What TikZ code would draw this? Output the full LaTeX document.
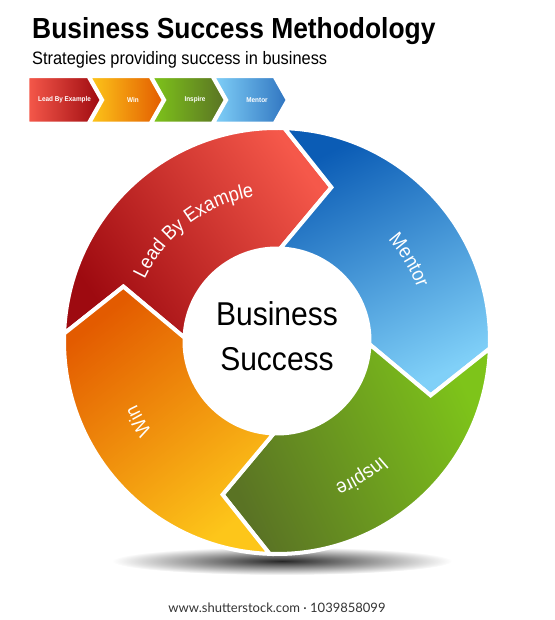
\documentclass[tikz,border=0pt]{standalone}
\usepackage{fontspec}
\setmainfont{Liberation Sans}
\newfontfamily\condfont[FakeStretch=0.91]{Liberation Sans}
\newfontfamily\footfont{Lato}
\usetikzlibrary{decorations.text}

\definecolor{leaddark}{HTML}{9E0A10}
\definecolor{leadlight}{HTML}{F5584A}
\definecolor{mentordark}{HTML}{0B5CB5}
\definecolor{mentorlight}{HTML}{80D0F8}
\definecolor{inspiredark}{HTML}{5A7324}
\definecolor{inspirelight}{HTML}{7EC41A}
\definecolor{windark}{HTML}{E35B00}
\definecolor{winlight}{HTML}{FDC61A}

\newcommand{\ringfont}{\condfont\fontsize{20}{24}\selectfont\color{white}}

\begin{document}
\begin{tikzpicture}[x=1pt, y=1pt,
    segment/.style={draw=white, line width=4pt, line join=miter},
    chevron/.style={draw=white, line width=2.5pt, line join=miter},
    chevlabel/.style={text=white, font=\condfont\bfseries\fontsize{7}{8}\selectfont},
    ringlabel/.style={decorate, decoration={text along path, text align=center, text={|\ringfont|#1}}}
]
\useasboundingbox (0,0) rectangle (554,620);

% Tytul
\node[anchor=base west, inner sep=0, font=\condfont\bfseries\fontsize{29}{34}\selectfont] (title) at (32,581) {Business Success Methodology};
\node[anchor=base west, inner sep=0, font=\condfont\fontsize{18}{22}\selectfont] (subtitle) at (32,555) {Strategies providing success in business};

% Pasek strzalek (gora)
\shadedraw[chevron, left color=leadlight, right color=leaddark] (28,543) -- (88,543) -- (101,520) -- (88,497) -- (28,497) -- cycle;
\shadedraw[chevron, left color=winlight, right color=windark] (90,543) -- (150,543) -- (163,520) -- (150,497) -- (90,497) -- (103,520) -- cycle;
\shadedraw[chevron, left color=inspirelight, right color=inspiredark] (152,543) -- (212,543) -- (225,520) -- (212,497) -- (152,497) -- (165,520) -- cycle;
\shadedraw[chevron, left color=mentorlight, right color=mentordark!85] (214,543) -- (274,543) -- (287,520) -- (274,497) -- (214,497) -- (227,520) -- cycle;

\node[chevlabel] (barlead) at (64.5,520) {Lead By Example};
\node[chevlabel] (barwin) at (133,520) {Win};
\node[chevlabel] (barinspire) at (195,520) {Inspire};
\node[chevlabel] (barmentor) at (257,520) {Mentor};

\begin{scope}[shift={(277,279)}]
% Cien pod kolem
\shade[inner color=black!85, outer color=white] (5,-220) ellipse[x radius=170, y radius=14];

% Segmenty kola
\shadedraw[segment, top color=leadlight, bottom color=leaddark, shading angle=-55]
  (178:213) arc[start angle=178, end angle=88, radius=213] -- (70.5:163) -- (88:92.5)
  arc[start angle=88, end angle=178, radius=92.5] -- (160.5:163) -- cycle;
\shadedraw[segment, top color=mentordark, bottom color=mentorlight, shading angle=26]
  (88:213) arc[start angle=88, end angle=-2, radius=213] -- (-19.5:163) -- (-2:92.5)
  arc[start angle=-2, end angle=88, radius=92.5] -- (70.5:163) -- cycle;
\shadedraw[segment, top color=inspirelight, bottom color=inspiredark, shading angle=-65]
  (-2:213) arc[start angle=-2, end angle=-92, radius=213] -- (-109.5:163) -- (-92:92.5)
  arc[start angle=-92, end angle=-2, radius=92.5] -- (-19.5:163) -- cycle;
\shadedraw[segment, top color=windark, bottom color=winlight, shading angle=38]
  (268:213) arc[start angle=268, end angle=178, radius=213] -- (160.5:163) -- (178:92.5)
  arc[start angle=178, end angle=268, radius=92.5] -- (250.5:163) -- cycle;

% Napisy na segmentach
\path[ringlabel=Lead By Example] (172:146) arc[start angle=172, end angle=82, radius=146];
\path[ringlabel=Mentor] (75:150) arc[start angle=75, end angle=-12, radius=150];
\path[ringlabel=Inspire] (-13:155) arc[start angle=-13, end angle=-103, radius=155];
\path[ringlabel=Win] (255:154) arc[start angle=255, end angle=165, radius=154];

% Srodek
\node[align=center, font=\condfont\fontsize{33}{45}\selectfont] (hub) at (0,5) {Business\\Success};
\end{scope}

\node[anchor=base, font=\footfont\fontsize{13}{15}\selectfont, text=black!80] (footer) at (277,7) {www.shutterstock.com · 1039858099};

\end{tikzpicture}
\end{document}
